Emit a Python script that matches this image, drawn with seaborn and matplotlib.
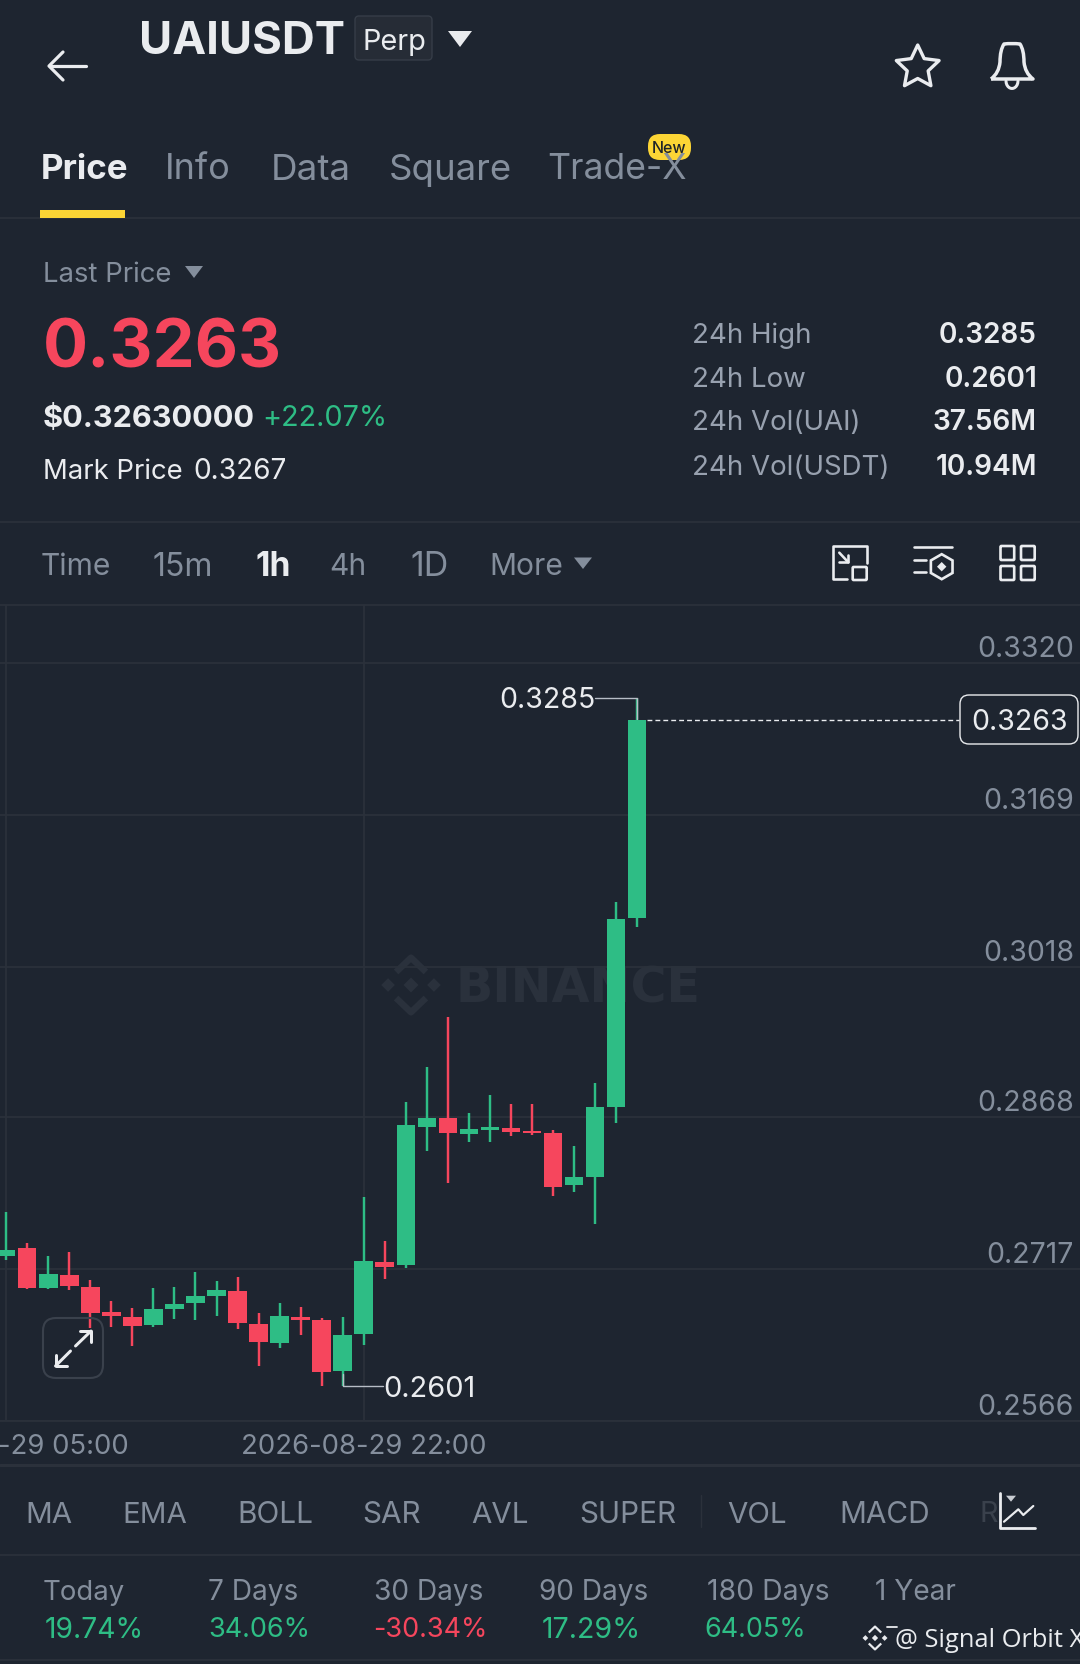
import numpy as np
import pandas as pd
import matplotlib
matplotlib.use("Agg")
import matplotlib.pyplot as plt
import seaborn as sns
from matplotlib.patches import FancyBboxPatch, Polygon, Rectangle
from matplotlib.path import Path
from matplotlib.patches import PathPatch

# ---------- data ----------
open_ = [0.27301,0.27378,0.26980,0.27112,0.26996,0.26744,0.26698,0.26612,0.26771,0.26831,0.26904,
         0.26953,0.26622,0.26433,0.26698,0.26665,0.26161,0.26526,0.27245,0.27212,0.28588,0.28677,
         0.28518,0.28555,0.28575,0.28548,0.28525,0.28003,0.28083,0.28787,0.30660]
close = [0.27361,0.26980,0.27122,0.27003,0.26738,0.26701,0.26602,0.26771,0.26824,0.26904,0.26963,
         0.26632,0.26443,0.26708,0.26665,0.26151,0.26519,0.27252,0.27195,0.28604,0.28671,0.28528,
         0.28565,0.28588,0.28532,0.28522,0.27984,0.28083,0.28784,0.30649,0.32630]
high  = [0.27739,0.27434,0.27301,0.27345,0.27063,0.26854,0.26781,0.26980,0.26996,0.27142,0.27053,
         0.27096,0.26738,0.26831,0.26794,0.26681,0.26698,0.27892,0.27454,0.28830,0.29178,0.29682,
         0.28727,0.28906,0.28810,0.28817,0.28555,0.28395,0.29027,0.30824,0.32850]
low   = [0.27262,0.26970,0.26970,0.26963,0.26582,0.26599,0.26409,0.26592,0.26678,0.26665,0.26705,
         0.26572,0.26211,0.26383,0.26512,0.26008,0.26010,0.26413,0.27076,0.27185,0.28343,0.28031,
         0.28432,0.28432,0.28498,0.28505,0.27897,0.27935,0.27622,0.28624,0.30573]
y_ticks = [0.3320,0.3169,0.3018,0.2868,0.2717,0.2566]
y_tick_labels = ["0.3320","0.3169","0.3018","0.2868","0.2717","0.2566"]
x_ticks = [0,17]
x_tick_labels = ["2026-08-29 05:00","2026-08-29 22:00"]
last_price = 0.3263
high_24h = 0.3285
low_24h = 0.2601
tabs = ["Price","Info","Data","Square","Trade-X"]
intervals = ["Time","15m","1h","4h","1D","More"]
indicators = ["MA","EMA","BOLL","SAR","AVL","SUPER","VOL","MACD"]
stats_names = ["24h High","24h Low","24h Vol(UAI)","24h Vol(USDT)"]
stats_vals = ["0.3285","0.2601","37.56M","10.94M"]
perf_names = ["Today","7 Days","30 Days","90 Days","180 Days","1 Year"]
perf_vals = ["19.74%","34.06%","-30.34%","17.29%","64.05%"]

# ---------- style ----------
BG="#1E2530"; GRID="#2B313B"; GREEN="#2EBD85"; RED="#F6465D"
GREY="#848E9C"; WHITE="#EAECEF"; FONT="Inter"
sns.set_theme(style="dark", rc={"figure.facecolor":BG,"axes.facecolor":BG,"savefig.facecolor":BG})
plt.rcParams["font.family"]=[FONT,"DejaVu Sans"]

W,H=1080,1664
fig=plt.figure(figsize=(W/100,H/100),dpi=100)
CH_TOP,CH_BOT=605,1421
bg=fig.add_axes([0,0,1,1],zorder=0); bg.set_xlim(0,W); bg.set_ylim(H,0); bg.axis("off")
ax=fig.add_axes([0,1-CH_BOT/H,1,(CH_BOT-CH_TOP)/H],zorder=1); ax.patch.set_alpha(0)
ui=fig.add_axes([0,0,1,1],zorder=2); ui.set_xlim(0,W); ui.set_ylim(H,0); ui.axis("off"); ui.patch.set_alpha(0)

def T(a,x,y,s,px,color=GREY,ha="left",weight="normal",**k):
    return a.text(x,y+0.36*px,s,fontsize=px*0.72,color=color,ha=ha,va="baseline",fontweight=weight,**k)
def L(a,xs,ys,color=WHITE,lw=2.4,**k):
    a.plot(xs,ys,color=color,lw=lw*0.72,solid_capstyle=k.pop("cap","round"),solid_joinstyle="round",**k)

# ---------- chart ----------
df=pd.DataFrame({"i":np.arange(len(open_)),"open":open_,"close":close,"high":high,"low":low})
df["up"]=df["close"]>=df["open"]
df["base"]=df[["open","close"]].min(axis=1)
df["body"]=(df["close"]-df["open"]).abs()
for up,col in [(True,GREEN),(False,RED)]:
    s=df[df["up"]==up].sort_values("i")
    sns.barplot(data=s,x="i",y="body",bottom=s["base"].values,native_scale=True,width=0.88,
                color=col,saturation=1,linewidth=0,errorbar=None,ax=ax,zorder=3)
    ax.vlines(s["i"],s["low"],s["high"],color=col,lw=1.75,zorder=2.5)
PX=10053.0; DX=21.03; X0=6.2
ax.set_xlim(-X0/DX,(W-X0)/DX)
ax.set_ylim(0.2566,0.2566+(CH_BOT-CH_TOP)/PX)
ax.set_xlabel(""); ax.set_ylabel("")
ax.set_xticks(x_ticks); ax.set_xticklabels(x_tick_labels,fontsize=27.5*0.72,color=GREY)
ax.set_yticks(y_ticks); ax.set_yticklabels(y_tick_labels,fontsize=28.5*0.72,color=GREY)
ax.tick_params(axis="y",left=False,labelleft=False,right=False,labelright=True,pad=-10.3)
ax.tick_params(axis="x",bottom=False,pad=3.6)
for l in ax.get_yticklabels():
    l.set_ha("right"); l.set_va("bottom")
ax.grid(True,color=GRID,lw=1.3,zorder=1); ax.set_axisbelow(True)
for sp in ax.spines.values(): sp.set_visible(False)
# last-price dash line
ax.hlines(last_price,30.45,45.3,color=WHITE,lw=1.0,linestyles=(0,(3.5,2.2)),zorder=2)
# high / low leaders
ax.plot([28.0,30,30],[high_24h,high_24h,high_24h-0.0021],color="#B7BDC6",lw=1.0,zorder=2.6)
ax.annotate("0.3285",(28.0,high_24h),xytext=(0,-1.5),textcoords="offset points",fontsize=28.5*0.72,color=WHITE,ha="right",va="center")
ax.plot([16,16,17.9],[low_24h+0.0012,low_24h,low_24h],color="#B7BDC6",lw=1.0,zorder=2.6)
ax.annotate("0.2601",(17.95,low_24h),xytext=(0,-3),textcoords="offset points",fontsize=29*0.72,color=WHITE,ha="left",va="center")

# watermark (behind the chart)
def logo(a,cx,cy,r,color,lw):
    def dia(x,y,q):
        a.add_patch(Polygon([(x-q,y),(x,y-q),(x+q,y),(x,y+q)],closed=True,fc=color,ec="none"))
    dia(cx,cy,r*0.24); dia(cx-r*0.74,cy,r*0.22); dia(cx+r*0.74,cy,r*0.22)
    L(a,[cx-r*0.48,cx,cx+r*0.48],[cy-r*0.42,cy-r*0.88,cy-r*0.42],color=color,lw=lw,cap="butt")
    L(a,[cx-r*0.48,cx,cx+r*0.48],[cy+r*0.42,cy+r*0.88,cy+r*0.42],color=color,lw=lw,cap="butt")
logo(bg,411,985,31,"#2A313C",6.5)
T(bg,455,985,"BINANCE",49,color="#2A313C",weight="bold",family="DejaVu Sans")

# price box
ui.add_patch(FancyBboxPatch((960,695),118,49,boxstyle="round,pad=0,rounding_size=9",fc=BG,ec=WHITE,lw=1.0))
T(ui,1019.5,720,"0.3263",28.5,color=WHITE,ha="center")

# expand button
ui.add_patch(FancyBboxPatch((43,1318),60,60,boxstyle="round,pad=0,rounding_size=13",fc="none",ec="#3A414C",lw=1.5))
for (a0,b0,a1,b1) in [(70.5,1351,55.5,1366),(75.5,1346,91,1331)]:
    L(ui,[a0,a1],[b0,b1],lw=3)
    dx=11 if a1<a0 else -11; dy=-11 if b1>b0 else 11
    L(ui,[a1+dx,a1,a1],[b1,b1,b1+dy],lw=3)

# ---------- header ----------
T(ui,138.5,38,"UAIUSDT",45.4,color=WHITE,weight="bold")
ui.add_patch(FancyBboxPatch((355,16),77,44,boxstyle="round,pad=0,rounding_size=4",fc="#262C36",ec="#363D48",lw=1))
T(ui,394,39.5,"Perp",29,color=WHITE,ha="center")
ui.add_patch(Polygon([(448,31),(472,31),(460,47)],closed=True,fc=WHITE,ec="none"))
L(ui,[86,50],[66,66],lw=3.2); L(ui,[63,49,63],[52,66,80],lw=3.2)
ang=np.deg2rad(-90+np.arange(10)*36); rad=np.where(np.arange(10)%2==0,22.5,11)
ui.add_patch(Polygon(np.c_[917.7+rad*np.cos(ang),67.5+rad*np.sin(ang)],closed=True,fc="none",ec=WHITE,lw=2.4,joinstyle="round"))
bell=Path([(991,79),(999,73),(1000,62),(1000,50),(1004,44),(1012,43),(1020,44),(1024,50),(1024,62),(1025,73),(1033,79),(991,79)],
          [Path.MOVETO,Path.CURVE3,Path.CURVE3,Path.CURVE3,Path.CURVE3,Path.CURVE3,Path.CURVE3,Path.CURVE3,Path.CURVE3,Path.CURVE3,Path.CURVE3,Path.LINETO])
ui.add_patch(PathPatch(bell,fc="none",ec=WHITE,lw=2.5,joinstyle="round"))
bt=np.linspace(0,np.pi,12)
L(ui,1012+6*np.cos(bt),81+7.5*np.sin(bt),lw=3)

# tabs
for name,x,col,w,sz in zip(tabs,[41,165,270.5,388.5,547],[WHITE]+[GREY]*4,["bold"]+["normal"]*4,[35,36,36.8,36.5,35.6]):
    T(ui,x,166.5,name,sz,color=col,weight=w)
ui.add_patch(FancyBboxPatch((648,134),43,26,boxstyle="round,pad=0,rounding_size=12",fc="#FCD535",ec="none"))
T(ui,669.5,147.5,"New",16,color="#1E2329",ha="center",weight="medium")
ui.add_patch(Rectangle((40,209.5),85,8,fc="#FCD535",ec="none"))
for y,lw in [(218,1.3),(522,1.3),(605,1.3),(1421,1.3),(1555,1.3),(1660,1.3)]:
    ui.plot([0,W],[y,y],color=GRID,lw=lw,zorder=0)
ui.plot([0,W],[1465,1465],color=GRID,lw=2.2,zorder=0)

# price block
T(ui,43,272,"Last Price",27.5,color=GREY)
ui.add_patch(Polygon([(185,266),(203,266),(194,278)],closed=True,fc=GREY,ec="none"))
T(ui,43,343,"0.3263",66.8,color=RED,weight="bold")
T(ui,43,416,"$0.32630000",30.7,color=WHITE,weight="bold")
T(ui,262.5,416,"+22.07%",28.8,color=GREEN)
T(ui,43,469,"Mark Price",27.5,color=WHITE)
T(ui,193,469,"0.3267",28,color=WHITE)
for y,n,v in zip([333,377,420,465],stats_names,stats_vals):
    T(ui,692.5,y,n,27.7,color="#98A1AF")
    T(ui,1037,y,v,28,color=WHITE,ha="right",weight="semibold")

# interval row
for name,x,col,w,sz in zip(intervals,[41,152.5,255.5,329.5,410,489.5],[GREY,GREY,WHITE,GREY,GREY,GREY],
                           ["normal","normal","bold","normal","normal","normal"],[30,32,33.5,30,34,30]):
    T(ui,x,564,name,sz,color=col,weight=w)
ui.add_patch(Polygon([(574,557.5),(592,557.5),(583,569)],closed=True,fc=GREY,ec="none"))
# toolbar icons
L(ui,[846.7,832.7,832.7,866.7,866.7],[579.3,579.3,545.7,545.7,563],lw=2.6)
ui.add_patch(FancyBboxPatch((852.7,567),14,13,boxstyle="round,pad=0,rounding_size=1",fc="none",ec=WHITE,lw=1.9))
L(ui,[839.3,848.3],[552.7,562.3],lw=2.6)
L(ui,[848.3,848.3,839.3],[555,562.3,562.3],lw=2.6)
L(ui,[914.3,952.3],[547.3,547.3],lw=2.6); L(ui,[914.3,926],[560,560],lw=2.6); L(ui,[914.3,926],[572.3,572.3],lw=2.6)
aa=np.deg2rad(30+np.arange(6)*60)
ui.add_patch(Polygon(np.c_[941.7+12.5*np.cos(aa),566.7+12.5*np.sin(aa)],closed=True,fc="none",ec=WHITE,lw=1.9))
ui.add_patch(Polygon([(941.7,562),(946.4,566.7),(941.7,571.4),(937,566.7)],closed=True,fc=WHITE,ec="none"))
for x0 in (1000.5,1021):
    for y0 in (546,566):
        ui.add_patch(FancyBboxPatch((x0,y0),13.7,14,boxstyle="round,pad=0,rounding_size=1",fc="none",ec=WHITE,lw=1.9))

# indicator row
for name,x,sz in zip(indicators,[25,122,237,362.5,471.5,579,727.5,839.5],[29.5,29.5,29.8,29.7,29.5,29.7,29.5,29.8]):
    T(ui,x,1512,name,sz,color=GREY)
T(ui,979,1512,"R",29,color="#3A414C")
ui.plot([701,701],[1495,1527],color=GRID,lw=1)
L(ui,[1000,1000,1035],[1493,1528,1528],lw=2.8)
L(ui,[1004,1018.3,1023.3,1033.3],[1521.7,1509.3,1515,1506],lw=2.2)
ui.add_patch(Polygon([(1006,1495.7),(1016,1495.7),(1011,1501.7)],closed=True,fc="#C9CDD3",ec="none"))

# performance row
for name,x,sz in zip(perf_names,[43,208.5,373.5,539,707,875],[27.5,28,28,28,28.4,28]):
    T(ui,x,1590,name,sz,color=GREY)
for v,x,sz in zip(perf_vals,[44.5,208,373.5,541.5,704.5],[28.3,27,27,28.6,27]):
    T(ui,x,1627.5,v,sz,color=RED if v.startswith("-") else GREEN)
logo(ui,875,1638,13,WHITE,2.2)
L(ui,[887,897],[1627,1627],lw=1.8)
T(ui,895,1638,"@ Signal Orbit X",25.5,color=WHITE,family="Open Sans")

fig.savefig("out.png",dpi=100,facecolor=BG)
